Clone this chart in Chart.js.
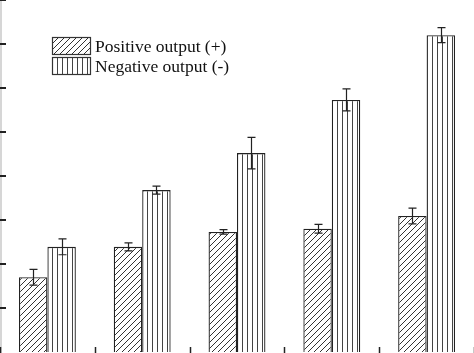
<!DOCTYPE html>
<html>
<head>
<meta charset="utf-8">
<script src="https://cdn.jsdelivr.net/npm/chart.js@4/dist/chart.umd.min.js"></script>
<style>
  html, body { margin: 0; padding: 0; background: #fff; }
  #wrap { width: 474px; height: 353px; }
</style>
</head>
<body>
<div id="wrap"><canvas id="chart"></canvas></div>
<script>
// datos
const categorias = ['1', '2', '3', '4', '5'];
const salidaPositiva = [1.70, 2.39, 2.73, 2.80, 3.09];
const errorPositiva = [0.18, 0.09, 0.05, 0.10, 0.18];
const salidaNegativa = [2.39, 3.68, 4.52, 5.73, 7.20];
const errorNegativa = [0.18, 0.09, 0.36, 0.25, 0.17];
const marcasY = [1, 2, 3, 4, 5, 6, 7, 8];
const etiquetas = ['Positive output (+)', 'Negative output (-)'];

// patrones de relleno (rayado)
function patronDiagonal() {
  const c = document.createElement('canvas');
  c.width = 6; c.height = 6;
  const g = c.getContext('2d');
  g.fillStyle = '#fff';
  g.fillRect(0, 0, 6, 6);
  g.strokeStyle = '#333';
  g.lineWidth = 1;
  g.beginPath();
  g.moveTo(-1, 7); g.lineTo(7, -1);
  g.moveTo(-1, 1); g.lineTo(1, -1);
  g.moveTo(5, 7); g.lineTo(7, 5);
  g.stroke();
  return g.createPattern(c, 'repeat');
}

function patronVertical() {
  const c = document.createElement('canvas');
  c.width = 5; c.height = 5;
  const g = c.getContext('2d');
  g.fillStyle = '#fff';
  g.fillRect(0, 0, 5, 5);
  g.fillStyle = '#444';
  g.fillRect(2, 0, 1, 5);
  return g.createPattern(c, 'repeat');
}

const rellenos = [patronDiagonal(), patronVertical()];

// barras de error
const pluginErrores = {
  id: 'errores',
  afterDatasetsDraw(chart) {
    const ctx = chart.ctx;
    const y = chart.scales.y;
    const errores = [errorPositiva, errorNegativa];
    ctx.save();
    ctx.strokeStyle = '#222';
    ctx.lineWidth = 1.2;
    chart.data.datasets.forEach((ds, i) => {
      chart.getDatasetMeta(i).data.forEach((bar, j) => {
        const v = ds.data[j];
        const e = errores[i][j];
        const x = Math.round(bar.x) + 0.5;
        const yt = y.getPixelForValue(v + e);
        const yb = y.getPixelForValue(v - e);
        ctx.beginPath();
        ctx.moveTo(x, yt); ctx.lineTo(x, yb);
        ctx.moveTo(x - 4, yt); ctx.lineTo(x + 4, yt);
        ctx.moveTo(x - 4, yb); ctx.lineTo(x + 4, yb);
        ctx.stroke();
      });
    });
    ctx.restore();
  }
};

// ejes recortados: línea izquierda y marcas
const pluginEjes = {
  id: 'ejes',
  afterDraw(chart) {
    const ctx = chart.ctx;
    const { x, y } = chart.scales;
    ctx.save();
    ctx.strokeStyle = '#c8c8c8';
    ctx.lineWidth = 1.5;
    ctx.beginPath();
    ctx.moveTo(1, 0); ctx.lineTo(1, chart.height);
    ctx.stroke();
    ctx.strokeStyle = '#222';
    ctx.lineWidth = 2;
    marcasY.forEach(v => {
      const py = Math.round(y.getPixelForValue(v));
      ctx.beginPath();
      ctx.moveTo(0, py); ctx.lineTo(6, py);
      ctx.stroke();
    });
    const paso = x.getPixelForValue(1) - x.getPixelForValue(0);
    ctx.lineWidth = 1.5;
    for (let i = 0; i <= categorias.length; i++) {
      const px = Math.round(x.getPixelForValue(0) - paso / 2 + i * paso) + 0.5;
      ctx.beginPath();
      ctx.moveTo(px, chart.height); ctx.lineTo(px, chart.height - 6);
      ctx.stroke();
    }
    ctx.restore();
  }
};

// leyenda dibujada dentro del área
const pluginLeyenda = {
  id: 'leyenda',
  afterDraw(chart) {
    const ctx = chart.ctx;
    ctx.save();
    ctx.font = '17.5px "Liberation Serif", "Times New Roman", serif';
    ctx.textBaseline = 'middle';
    etiquetas.forEach((t, i) => {
      const top = 37 + i * 20;
      ctx.fillStyle = rellenos[i];
      ctx.fillRect(52, top, 38, 17);
      ctx.strokeStyle = '#333';
      ctx.lineWidth = 1.2;
      ctx.strokeRect(52.5, top + 0.5, 38, 17);
      ctx.fillStyle = '#111';
      ctx.fillText(t, 95, top + 10);
    });
    ctx.restore();
  }
};

new Chart(document.getElementById('chart'), {
  type: 'bar',
  data: {
    labels: categorias,
    datasets: [{
      label: etiquetas[0],
      data: salidaPositiva,
      backgroundColor: rellenos[0],
      borderColor: '#222',
      borderWidth: 1.3
    }, {
      label: etiquetas[1],
      data: salidaNegativa,
      backgroundColor: rellenos[1],
      borderColor: '#222',
      borderWidth: 1.3
    }]
  },
  options: {
    responsive: true,
    maintainAspectRatio: false,
    animation: false,
    layout: { padding: { left: 0, right: 0, top: 0, bottom: 1 } },
    datasets: { bar: { categoryPercentage: 0.6, barPercentage: 1 } },
    plugins: {
      legend: { display: false },
      tooltip: { enabled: false }
    },
    scales: {
      x: { display: false, offset: true },
      y: { display: false, min: 0, max: 8 }
    }
  },
  plugins: [pluginErrores, pluginEjes, pluginLeyenda]
});
</script>
</body>
</html>
